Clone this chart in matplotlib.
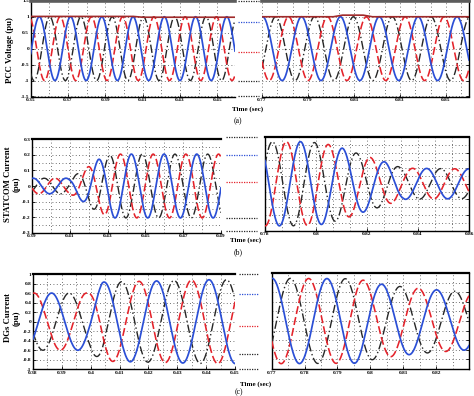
import numpy as np
import matplotlib
matplotlib.use('Agg')
import matplotlib.pyplot as plt

plt.rcParams['font.family'] = ['Liberation Serif', 'DejaVu Serif']

W, H = 474, 396
fig = plt.figure(figsize=(W / 100, H / 100), dpi=100)

BLUE = '#2b4fd6'
RED = '#e4232b'
BLACK = '#262626'
MAG = '#a02a2a'

# ---------------- data ----------------
# (a) PCC voltage
a_left_xlim = (0.35, 0.4595)
a_right_xlim = (0.77, 0.86)
a_ylim = (-1.5, 1.5)
a_left_xticks = [0.35, 0.37, 0.39, 0.41, 0.43, 0.45]
a_left_xlabels = ['0.35', '0.37', '0.39', '0.41', '0.43', '0.45']
a_right_xticks = [0.77, 0.79, 0.81, 0.83, 0.85]
a_right_xlabels = ['0.77', '0.79', '0.81', '0.83', '0.85']
a_yticks = [-1.5, -1, -0.5, 0, 0.5, 1, 1.5]
a_ylabels = ['-1.5', '-1', '-0.5', '0', '0.5', '1', '1.5']
a_left_period, a_left_peak = 0.01675, 0.35461
a_left_env_t = [0.35, 0.46]
a_left_env_amp = [1.0, 1.0]
a_right_period, a_right_peak = 0.0169, 0.7703
a_right_env_t = [0.77, 0.86]
a_right_env_amp = [1.0, 1.0]
a_left_mag_t = [0.35, 0.405, 0.41, 0.46]
a_left_mag = [1.01, 1.01, 0.985, 0.985]
a_right_mag_t = [0.77, 0.801, 0.805, 0.814, 0.818, 0.86]
a_right_mag = [1.0, 1.0, 1.05, 1.05, 1.0, 1.0]
a_break_levels = [1.5, 0.85, -0.11, -1.0, -1.5]

# (b) STATCOM current
b_left_xlim = (0.39, 0.49)
b_right_xlim = (0.78, 0.86)
b_ylim = (-0.3, 0.3)
b_left_xticks = [0.39, 0.41, 0.43, 0.45, 0.47, 0.49]
b_left_xlabels = ['0.39', '0.41', '0.43', '0.45', '0.47', '0.49']
b_right_xticks = [0.78, 0.80, 0.82, 0.84, 0.86]
b_right_xlabels = ['0.78', '0.8', '0.82', '0.84', '0.86']
b_yticks = [-0.3, -0.2, -0.1, 0, 0.1, 0.2, 0.3]
b_ylabels = ['-0.3', '-0.2', '-0.1', '0', '0.1', '0.2', '0.3']
b_left_period, b_left_peak = 0.0173, 0.44258
b_left_env_t = [0.39, 0.41, 0.417, 0.425, 0.433, 0.49]
b_left_env_amp = [0.05, 0.05, 0.10, 0.17, 0.205, 0.205]
b_right_period, b_right_peak = 0.0165, 0.7939
b_right_env_t = [0.78, 0.795, 0.803, 0.81, 0.818, 0.827, 0.834, 0.86]
b_right_env_amp = [0.27, 0.27, 0.26, 0.23, 0.185, 0.14, 0.10, 0.095]
b_break_levels = [0.3, 0.185, 0.01, -0.22, -0.3]

# (c) DGs current
c_left_xlim = (0.38, 0.45)
c_right_xlim = (0.77, 0.83)
c_ylim = (-1.0, 1.0)
c_left_xticks = [0.38, 0.39, 0.40, 0.41, 0.42, 0.43, 0.44, 0.45]
c_left_xlabels = ['0.38', '0.39', '0.4', '0.41', '0.42', '0.43', '0.44', '0.45']
c_right_xticks = [0.77, 0.78, 0.79, 0.80, 0.81, 0.82]
c_right_xlabels = ['0.77', '0.78', '0.79', '0.8', '0.81', '0.82']
c_yticks = [-1, -0.8, -0.6, -0.4, -0.2, 0, 0.2, 0.4, 0.6, 0.8, 1]
c_ylabels = ['-1', '-0.8', '-0.6', '-0.4', '-0.2', '0', '0.2', '0.4', '0.6', '0.8', '1']
c_left_period, c_left_peak = 0.01818, 0.38645
c_left_env_t = [0.38, 0.399, 0.404, 0.42, 0.44, 0.45]
c_left_env_amp = [0.6, 0.6, 0.83, 0.85, 0.88, 0.88]
c_right_period, c_right_peak = 0.0167, 0.7701
c_right_env_t = [0.77, 0.796, 0.803, 0.809, 0.815, 0.82, 0.83]
c_right_env_amp = [0.89, 0.88, 0.77, 0.72, 0.68, 0.65, 0.6]
c_break_levels = [1.0, 0.58, -0.09, -0.68, -1.0]

break_colors = [BLACK, BLUE, RED, BLACK, BLACK]

# ---------------- helpers ----------------
TICKFONT = dict(fontsize=3.9, fontweight='bold')


def px_axes(x0, x1, ytop, ybot):
    return fig.add_axes([x0 / W, 1 - ybot / H, (x1 - x0) / W, (ybot - ytop) / H])


def draw_panel(ax, xlim, ylim, xticks, xlabels, yticks, ylabels, xgrid, ygrid,
               period, peak, env_t, env_a, side):
    t = np.linspace(xlim[0], xlim[1], 2000)
    amp = np.interp(t, env_t, env_a)
    th = 2 * np.pi * (t - peak) / period
    ax.plot(t, amp * np.cos(th - 2 * np.pi / 3), color=BLACK, lw=1.0,
            ls=(0, (6, 2, 1, 2)), zorder=3)
    ax.plot(t, amp * np.cos(th - 4 * np.pi / 3), color=RED, lw=1.15,
            ls=(0, (5, 2)), zorder=3)
    ax.plot(t, amp * np.cos(th), color=BLUE, lw=1.25, zorder=4)
    ax.set_xlim(xlim)
    ax.set_ylim(ylim)
    ax.set_xticks(xticks)
    ax.set_xticklabels(xlabels, **TICKFONT)
    ax.set_yticks(yticks)
    ax.set_xticks(np.arange(xlim[0], xlim[1] + 1e-9, xgrid), minor=True)
    ax.set_yticks(np.arange(ylim[0], ylim[1] + 1e-9, ygrid), minor=True)
    ax.grid(True, which='both', color='#444444', lw=0.6, ls=(0, (1, 3)))
    ax.set_axisbelow(True)
    ax.tick_params(which='minor', length=0)
    ax.tick_params(which='major', direction='in', length=2, width=0.6, pad=1.2)
    for s in ax.spines.values():
        s.set_linewidth(1.0)
    if side == 'left':
        ax.set_yticklabels(ylabels, **TICKFONT)
        ax.tick_params(axis='y', left=True, right=False, labelleft=True)
        ax.spines['right'].set_visible(False)
    else:
        ax.tick_params(axis='y', left=False, right=True, labelleft=False)


def draw_break(ax, ylim, levels):
    ax.set_xlim(0, 1)
    ax.set_ylim(ylim)
    ax.axis('off')
    ax.hlines(levels, 0, 1, colors=break_colors, lw=0.9,
              linestyles=[(0, (1, 1))] * len(levels), clip_on=False)


# ---------------- (a) ----------------
axa1 = px_axes(30.7, 235, 0.8, 96.5)
draw_panel(axa1, a_left_xlim, a_ylim, a_left_xticks, a_left_xlabels, a_yticks, a_ylabels,
           0.01, 0.5, a_left_period, a_left_peak, a_left_env_t, a_left_env_amp, 'left')
axa1.plot(a_left_mag_t, a_left_mag, color=MAG, lw=1.2, zorder=5)
axa2 = px_axes(262, 469, 0.8, 96.5)
draw_panel(axa2, a_right_xlim, a_ylim, a_right_xticks, a_right_xlabels, a_yticks, a_ylabels,
           0.02 / 3, 0.5, a_right_period, a_right_peak, a_right_env_t, a_right_env_amp, 'right')
axa2.plot(a_right_mag_t, a_right_mag, color=MAG, lw=1.2, zorder=5)
axa2.spines['left'].set_visible(False)
for ax in (axa1, axa2):
    ax.spines['top'].set_color('#5c5c5c')
    ax.spines['top'].set_linewidth(2.6)
axg_a = px_axes(238, 259, 0.8, 96.5)
draw_break(axg_a, a_ylim, a_break_levels)

# ---------------- (b) ----------------
axb1 = px_axes(32, 221, 139.3, 232.7)
draw_panel(axb1, b_left_xlim, b_ylim, b_left_xticks, b_left_xlabels, b_yticks, b_ylabels,
           0.01, 0.05, b_left_period, b_left_peak, b_left_env_t, b_left_env_amp, 'left')
axb2 = px_axes(265, 469, 137, 230.5)
draw_panel(axb2, b_right_xlim, b_ylim, b_right_xticks, b_right_xlabels, b_yticks, b_ylabels,
           0.02 / 3, 0.05, b_right_period, b_right_peak, b_right_env_t, b_right_env_amp, 'right')
for ax in (axb1, axb2):
    ax.spines['top'].set_linewidth(1.6)
axg_b = px_axes(226, 257, 137, 230.5)
draw_break(axg_b, b_ylim, b_break_levels)

# ---------------- (c) ----------------
axc1 = px_axes(33, 235, 274, 369.3)
draw_panel(axc1, c_left_xlim, c_ylim, c_left_xticks, c_left_xlabels, c_yticks, c_ylabels,
           0.005, 0.2, c_left_period, c_left_peak, c_left_env_t, c_left_env_amp, 'left')
axc2 = px_axes(271.7, 469, 273, 369)
draw_panel(axc2, c_right_xlim, c_ylim, c_right_xticks, c_right_xlabels, c_yticks, c_ylabels,
           0.005, 0.2, c_right_period, c_right_peak, c_right_env_t, c_right_env_amp, 'right')
for ax in (axc1, axc2):
    ax.spines['top'].set_linewidth(1.6)
axg_c = px_axes(239, 258, 274, 369.3)
draw_break(axg_c, c_ylim, c_break_levels)

# ---------------- text ----------------
LAB = dict(fontsize=6.3, fontweight='bold', ha='center', va='center', rotation=90,
           multialignment='center', linespacing=1.1)
fig.text(10 / W, 1 - 50 / H, 'PCC Voltage (pu)', **LAB)
fig.text(12 / W, 1 - 184 / H, 'STATCOM Current\n(pu)', **LAB)
fig.text(12 / W, 1 - 318 / H, 'DGs Current\n(pu)', **LAB)

TL = dict(fontsize=5.0, fontweight='bold', ha='center', va='center')
fig.text(248 / W, 1 - 109 / H, 'Time (sec)', **TL)
fig.text(246 / W, 1 - 240 / H, 'Time (sec)', **TL)
fig.text(256 / W, 1 - 384 / H, 'Time (sec)', **TL)

SL = dict(fontsize=5.6, ha='center', va='center')
fig.text(238 / W, 1 - 121.5 / H, '(a)', **SL)
fig.text(238 / W, 1 - 252 / H, '(b)', **SL)
fig.text(239 / W, 1 - 392 / H, '(c)', **SL)

fig.savefig('out.png', dpi=100)
